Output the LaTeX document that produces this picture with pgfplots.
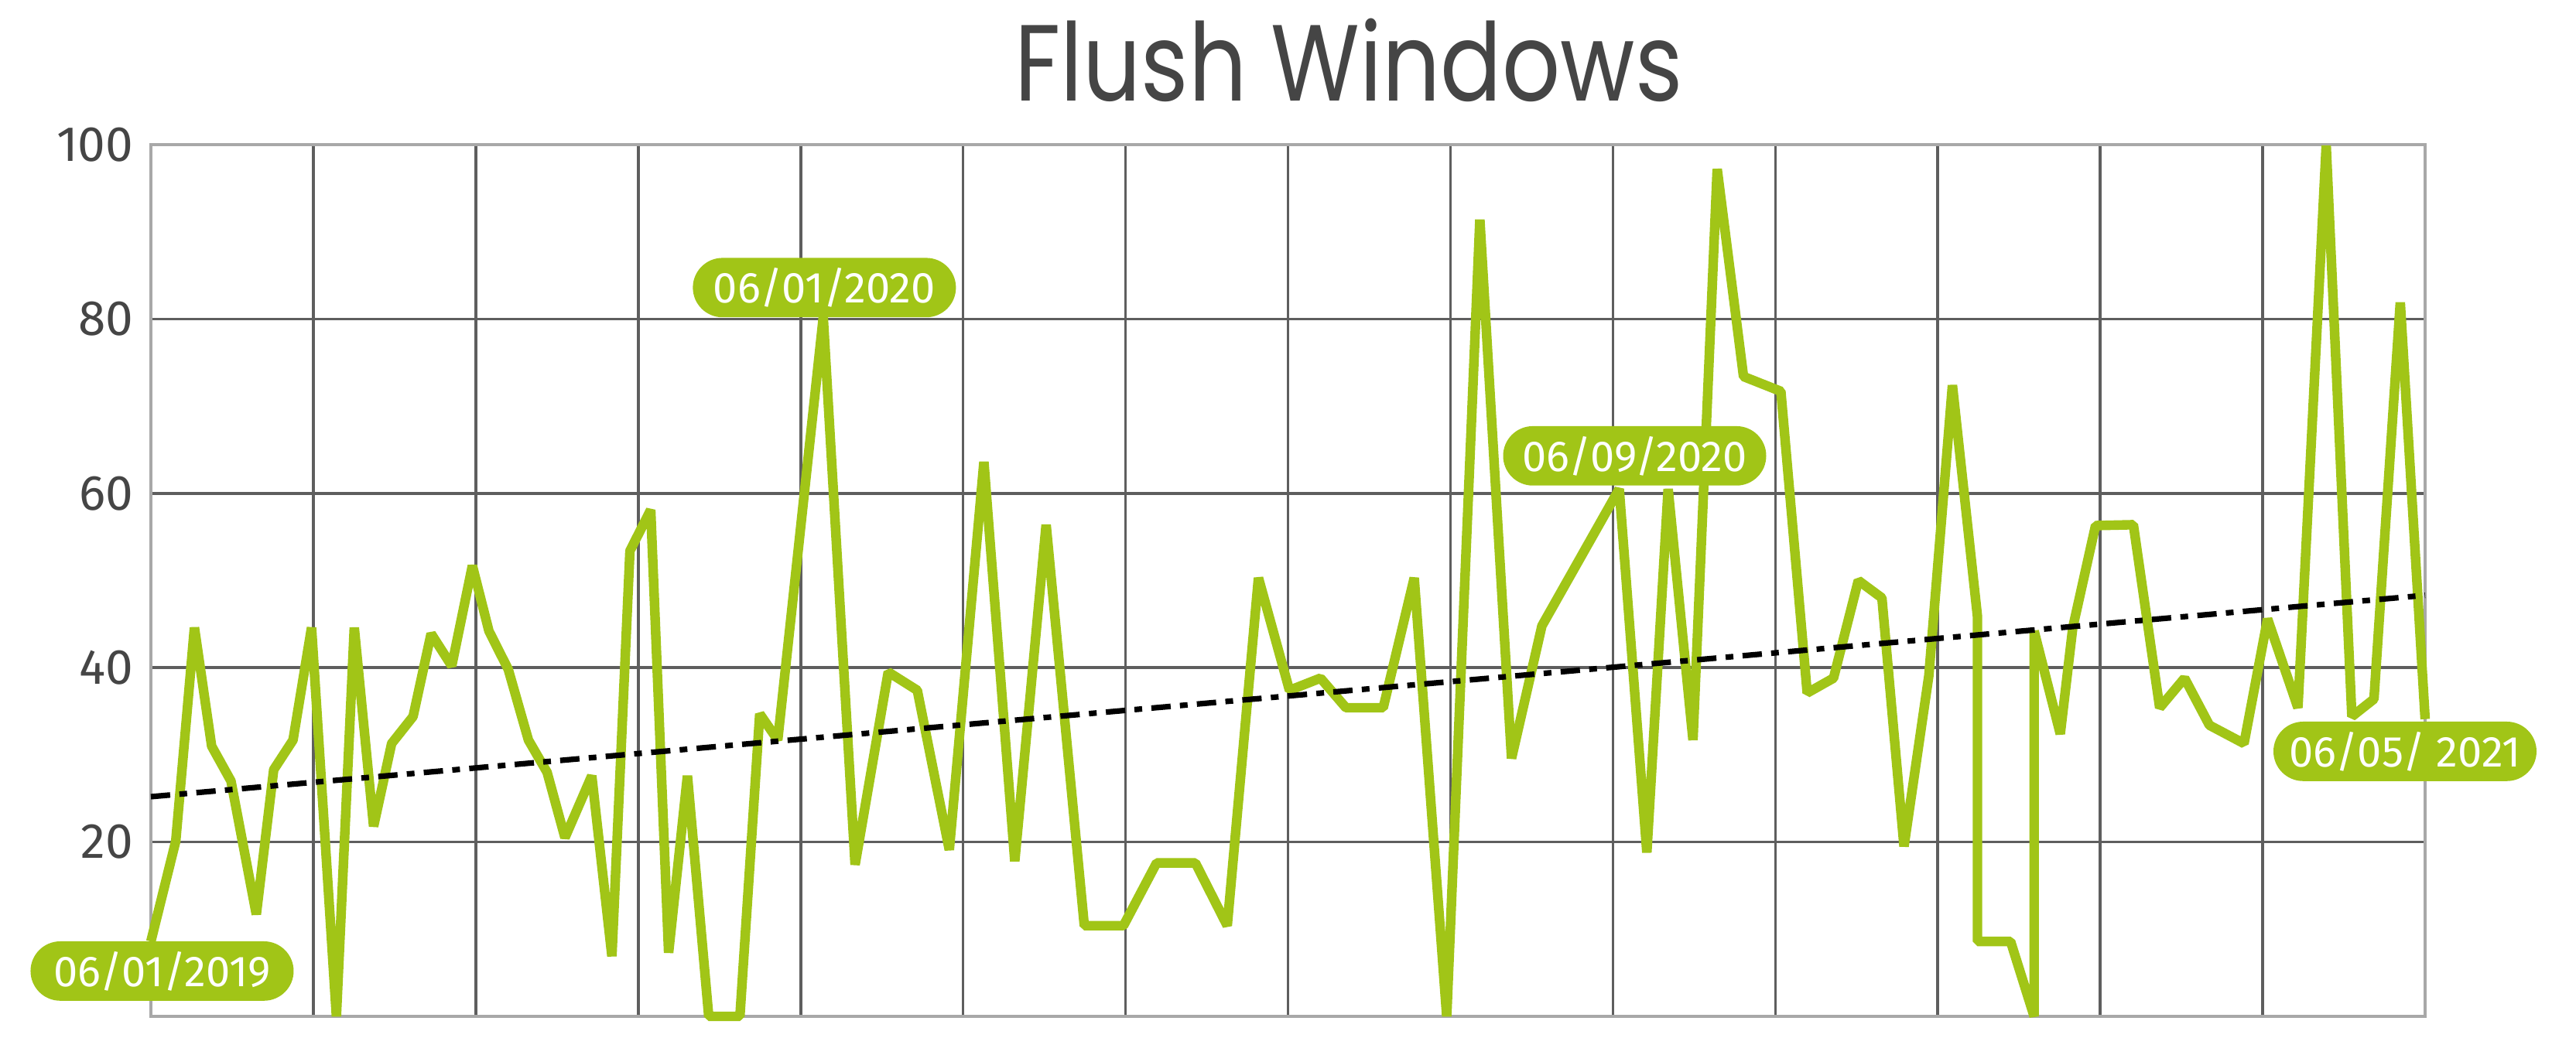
\documentclass[border=0pt]{standalone}
\usepackage{pgfplots}
\pgfplotsset{compat=1.18}
\usepackage{fontspec}
\setmainfont{Fira Sans}
\newfontfamily\titlefont[FakeStretch=0.84]{Poppins}
\definecolor{lime}{HTML}{A1C517}
\definecolor{gridgray}{HTML}{5E5E5E}
\definecolor{framegray}{HTML}{A8A8A8}
\definecolor{textgray}{HTML}{454545}
\begin{document}
\begin{tikzpicture}
\path[use as bounding box] (-48.75pt,-14.5pt) rectangle (783.5pt,328.5pt);
\begin{axis}[
  at={(0,0)}, anchor=south west,
  scale only axis, width=734.75pt, height=281.75pt,
  xmin=0, xmax=14, ymin=0, ymax=100,
  xtick={1,...,13}, xticklabels={},
  ytick={20,40,60,80,100},
  grid=major,
  major grid style={color=gridgray, line width=0.9pt},
  axis line style={color=framegray, line width=0.9pt},
  tick style={draw=none},
  yticklabel style={font=\fontsize{16}{16}\selectfont, text=textgray, anchor=east, inner sep=0pt, xshift=-5.5pt},
  /pgf/number format/assume math mode=true,
  clip=false,
]
\addplot[color=lime, line width=3.1pt, line join=bevel] coordinates {
(0.000,8.6) (0.153,20.1) (0.268,44.6) (0.374,31.0) (0.493,27.0) (0.649,11.7)
(0.756,28.3) (0.875,31.7) (0.989,44.6) (1.142,0) (1.252,44.6) (1.371,21.8)
(1.482,31.3) (1.614,34.4) (1.725,43.9) (1.852,40.2) (1.979,51.7) (2.081,44.2)
(2.200,39.8) (2.324,31.7) (2.439,28.0) (2.549,20.5) (2.714,27.6) (2.838,6.9)
(2.949,53.4) (3.077,58.1) (3.187,7.3) (3.303,27.6) (3.434,0) (3.626,0)
(3.748,34.7) (3.859,31.7) (4.139,80.2) (4.335,17.4) (4.539,39.5) (4.718,37.4)
(4.915,19.1) (5.128,63.6) (5.318,17.8) (5.511,56.4) (5.746,10.4) (5.987,10.4)
(6.191,17.6) (6.430,17.6) (6.626,10.4) (6.818,50.3) (7.009,37.4) (7.200,38.8)
(7.357,35.4) (7.586,35.4) (7.777,50.3) (7.977,0) (8.181,91.4) (8.376,29.6)
(8.563,44.8) (9.039,60.5) (9.209,18.8) (9.340,60.5) (9.493,31.7) (9.642,97.2)
(9.804,73.4) (10.034,71.7) (10.196,37.1) (10.358,38.8) (10.511,50.0) (10.656,48.0)
(10.792,19.5) (10.945,39.1) (11.090,72.4) (11.244,45.9) (11.244,8.6) (11.448,8.6)
(11.593,0) (11.593,44.2) (11.754,32.4) (11.831,44.6) (11.971,56.3) (12.204,56.4)
(12.366,35.4) (12.519,38.8) (12.672,33.4) (12.885,31.3) (13.030,45.6) (13.217,35.4)
(13.391,99.9) (13.549,34.4) (13.685,36.4) (13.847,81.9) (14.000,34.1)
};
\addplot[color=black, line width=1.8pt, dash pattern=on 6.25pt off 3pt on 2.5pt off 3pt] coordinates {
(0,25.2) (14,48.3)
};
\tikzset{lbl/.style={fill=lime, text=white, rounded corners=9.6pt, minimum height=19.2pt, minimum width=85pt, inner xsep=0pt, inner ysep=0pt, font=\fontsize{14}{14}\selectfont}}
\node[lbl] at (axis cs:0.069,5.2) {06/01/2019};
\node[lbl] at (axis cs:4.146,83.6) {06/01/2020};
\node[lbl] at (axis cs:9.134,64.3) {06/09/2020};
\node[lbl] at (axis cs:13.876,30.4) {06/05/ 2021};
\node[font=\titlefont\fontsize{35}{35}\selectfont, text=textgray, anchor=base, inner sep=0pt] at (rel axis cs:0.5267,1.0497) {Flush Windows};
\end{axis}
\end{tikzpicture}
\end{document}
